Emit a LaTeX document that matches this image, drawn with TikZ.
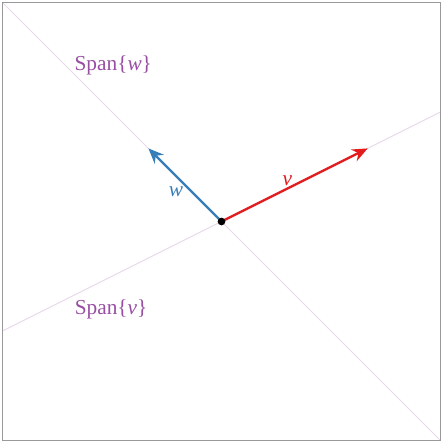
\documentclass[tikz,border=0pt]{standalone}
\usepackage{fontspec}
\setmainfont{Liberation Serif}
\usetikzlibrary{arrows.meta}
\definecolor{vred}{RGB}{228,26,28}
\definecolor{wblue}{RGB}{55,126,184}
\definecolor{spanpurple}{RGB}{152,78,163}
\begin{document}
\begin{tikzpicture}[x=1cm, y=1cm, font=\fontsize{8.3}{10}\selectfont,
    spanline/.style={spanpurple!22, line width=0.4pt},
    vec/.style={line width=0.9pt, -{Stealth[length=6pt, width=5pt, inset=2pt]}},
    spanlabel/.style={text=spanpurple}]
            \useasboundingbox (-3.03, -3.02) rectangle (3.03, 3.03);

            \coordinate (o) at (0, 0);
            \coordinate (v) at (2, 1);
            \coordinate (w) at (-1, 1);
            \coordinate (sw1) at (-3, 3);
            \coordinate (sw2) at (3, -3);
            \coordinate (sv1) at (-3, -1.5);
            \coordinate (sv2) at (3, 1.5);

            \draw[spanline] (sw1) -- (sw2);
            \draw[spanline] (sv1) -- (sv2);

            \node[spanlabel] (spanw) at (-1.48, 2.13) {Span\{\textit{w}\}};
            \node[spanlabel] (spanv) at (-1.51, -1.20) {Span\{\textit{v}\}};

            \draw[vec, vred] (o) -- (v) node[pos=0.45, above, yshift=-2.5pt, text=vred] {\textit{v}};
            \draw[vec, wblue] (o) -- (w) node[pos=0.55, below left, xshift=4.5pt, yshift=1.5pt, text=wblue] {\textit{w}};
            \fill (o) circle (1.5pt);

            \draw[gray!80, line width=0.5pt] (-3, -3) rectangle (3, 3);
        \end{tikzpicture}
\end{document}
